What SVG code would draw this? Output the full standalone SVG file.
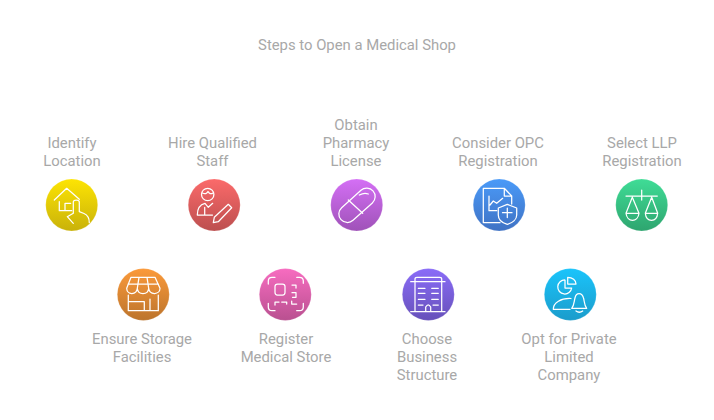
<svg xmlns="http://www.w3.org/2000/svg" width="714" height="420" viewBox="0 0 714 420">
<style>
text{font-family:Roboto,"Liberation Sans",sans-serif;font-size:14.85px;fill:#a8a8a8;text-anchor:middle}
.i{fill:none;stroke:#fff;stroke-width:1.25;stroke-linecap:round;stroke-linejoin:round}
.h{stroke:#fff;stroke-opacity:.3;stroke-width:.6}
</style>
<defs>
<linearGradient id="g1" x1="0" y1="0" x2="0" y2="1"><stop offset="0" stop-color="#fde403"/><stop offset="1" stop-color="#c9b20a"/></linearGradient>
<linearGradient id="g2" x1="0" y1="0" x2="0" y2="1"><stop offset="0" stop-color="#fb6a6a"/><stop offset="1" stop-color="#bc4f4f"/></linearGradient>
<linearGradient id="g3" x1="0" y1="0" x2="0" y2="1"><stop offset="0" stop-color="#d46ff5"/><stop offset="1" stop-color="#9f52b8"/></linearGradient>
<linearGradient id="g4" x1="0" y1="0" x2="0" y2="1"><stop offset="0" stop-color="#4a9af8"/><stop offset="1" stop-color="#3f72c4"/></linearGradient>
<linearGradient id="g5" x1="0" y1="0" x2="0" y2="1"><stop offset="0" stop-color="#3fdc96"/><stop offset="1" stop-color="#2ea56f"/></linearGradient>
<linearGradient id="g6" x1="0" y1="0" x2="0" y2="1"><stop offset="0" stop-color="#fb9a3a"/><stop offset="1" stop-color="#bc742c"/></linearGradient>
<linearGradient id="g7" x1="0" y1="0" x2="0" y2="1"><stop offset="0" stop-color="#f76cc0"/><stop offset="1" stop-color="#b95090"/></linearGradient>
<linearGradient id="g8" x1="0" y1="0" x2="0" y2="1"><stop offset="0" stop-color="#8a6cf8"/><stop offset="1" stop-color="#6751ba"/></linearGradient>
<linearGradient id="g9" x1="0" y1="0" x2="0" y2="1"><stop offset="0" stop-color="#1ac4fb"/><stop offset="1" stop-color="#1b9ccb"/></linearGradient>
</defs>
<text id="title" x="357" y="50">Steps to Open a Medical Shop</text>
<g id="connectors"/>
<g id="n1"><text x="72" y="148">Identify</text><text x="72" y="166">Location</text>
<circle class="h" cx="71.700" cy="205" r="26" fill="url(#g1)"/>
<path class="i" d="M54.300 200L66.700 188.300 79.300 199.300M59.300 201.700V210.700H71.700M65 210.700V203.300H70.700M73.300 213.300V202C73.300 199.500 79.300 199.500 79.300 202V211.700L84 213.500C87.500 215 89.300 218 89.300 222.700M73.300 213.300L67.300 216.700 73.300 223.300"/></g>
<g id="n2"><text x="212.500" y="148">Hire Qualified</text><text x="212.500" y="166">Staff</text>
<circle class="h" cx="214.200" cy="205" r="26" fill="url(#g2)"/>
<circle class="i" cx="207.700" cy="194.500" r="6.200"/>
<path class="i" d="M202.500 193C205 194.500 207 193.500 208 191.500C209 193.500 211 194.500 213 193M197.300 215C197.300 209 200 204.500 205 203.300L208.300 207.300 212.700 203.300M197.300 215H212.500M204.700 207.300V215M228.300 204.300L231.700 207.700 218.300 221.700 213.300 222.700 214.300 217.300Z"/></g>
<g id="n3"><text x="356" y="130">Obtain</text><text x="356" y="148">Pharmacy</text><text x="356" y="166">License</text>
<circle class="h" cx="356.700" cy="205" r="26" fill="url(#g3)"/>
<rect class="i" x="335.500" y="196.800" width="43" height="17" rx="8.500" transform="rotate(-42 357 205.300)"/>
<path class="i" d="M348.300 200L362.700 213.300M359.300 195C362 193.500 366 193 368.300 194"/></g>
<g id="n4"><text x="498" y="148">Consider OPC</text><text x="498" y="166">Registration</text>
<circle class="h" cx="499.200" cy="205" r="26" fill="url(#g4)"/>
<path class="i" d="M511.700 204V196L504.300 188.300H483.300V222.700H500M504.300 188.300V196H511.700M489 196V210.700H496.700M490 205L493.300 201 496.700 203.300 502.700 198.300M507.300 204.300L516.700 208V215C516.700 219.500 512.500 223 507.300 224.300C502 223 498.300 219.500 498.300 215V208ZM507.300 208V217.500M502.500 212.700H512"/></g>
<g id="n5"><text x="642" y="148">Select LLP</text><text x="642" y="166">Registration</text>
<circle class="h" cx="641.700" cy="205" r="26" fill="url(#g5)"/>
<path class="i" d="M626 196H657.300M641.700 190V200M632.300 197.300L626 213.300H639L632.300 197.300M651.700 197.300L645.300 213.300H657.700L651.700 197.300M626 213.300C627 222.700 638 222.700 639 213.300M645.300 213.300C646.300 222.700 656.700 222.700 657.700 213.300"/></g>
<g id="n6"><circle class="h" cx="143.300" cy="294.500" r="26" fill="url(#g6)"/>
<path class="i" d="M131 277.300H155L160 288.300C160 295 149.500 295.500 148.700 288.300C148 295.500 138 295.500 137.300 288.300C136.500 295.500 126.700 295 126.700 288.300ZM128 284H158.500M137.300 288.300L139 277.300M148.700 288.300L147 277.300M128.300 295V310.700H158.300V295M129 301.700H144.300V310.700M150 310.700V299"/>
<text x="142" y="344">Ensure Storage</text><text x="142" y="362">Facilities</text></g>
<g id="n7"><circle class="h" cx="285.300" cy="294.500" r="26" fill="url(#g7)"/>
<path class="i" d="M268.300 284V281Q268.300 277.300 272 277.300H275M296.700 277.300H299.500Q303.300 277.300 303.300 281V283.300M268.300 303.300V307Q268.300 310.700 272 310.700H275M303.300 303.300V307Q303.300 310.700 299.500 310.700H296.700M277.500 284H282.500Q285 284 285 286.500V292.500Q285 295 282.500 295H277.500Q275 295 275 292.500V286.500Q275 284 277.500 284ZM292 285H296V288M292 292.700H296V297.300H292.500M275 305V302H279M281.700 302H286.700V304M291.700 301V304H296.700"/>
<text x="286" y="344">Register</text><text x="286" y="362">Medical Store</text></g>
<g id="n8"><circle class="h" cx="428.300" cy="294.500" r="26" fill="url(#g8)"/>
<path class="i" d="M410.700 281.700H445M415 281.700V279Q415 277.300 417 277.300H439.700Q441.700 277.300 441.700 279V281.700M415 281.700V311.700M441.700 281.700V311.700M410.700 311.700H445M418.300 288.300H425M431.700 288.300H438.300M418.300 293.300H425M431.700 293.300H438.300M418.300 299.300H425M431.700 299.300H438.300M418.300 305H423M433 305H438.300M425.700 311.700V307Q428.200 302.500 430.700 307V311.700"/>
<text x="427" y="344">Choose</text><text x="427" y="362">Business</text><text x="427" y="380">Structure</text></g>
<g id="n9"><circle class="h" cx="570.300" cy="294.500" r="26" fill="url(#g9)"/>
<path class="i" d="M565 280A7 7 0 1 0 571.700 288H565ZM567.700 277.300V284H576C576 280 572.500 277.300 567.700 277.300ZM553.300 309.300C553.300 302.500 561 298 571 298.500M553.300 309.300H570M571.700 308.300H586.700C584 305 584.500 301 583.500 298C582 292 576 292 575 298C574 301 574.500 305 571.700 308.300ZM576 311Q579.300 313.500 582.700 311"/>
<text x="569" y="344">Opt for Private</text><text x="569" y="362">Limited</text><text x="569" y="380">Company</text></g>
</svg>
